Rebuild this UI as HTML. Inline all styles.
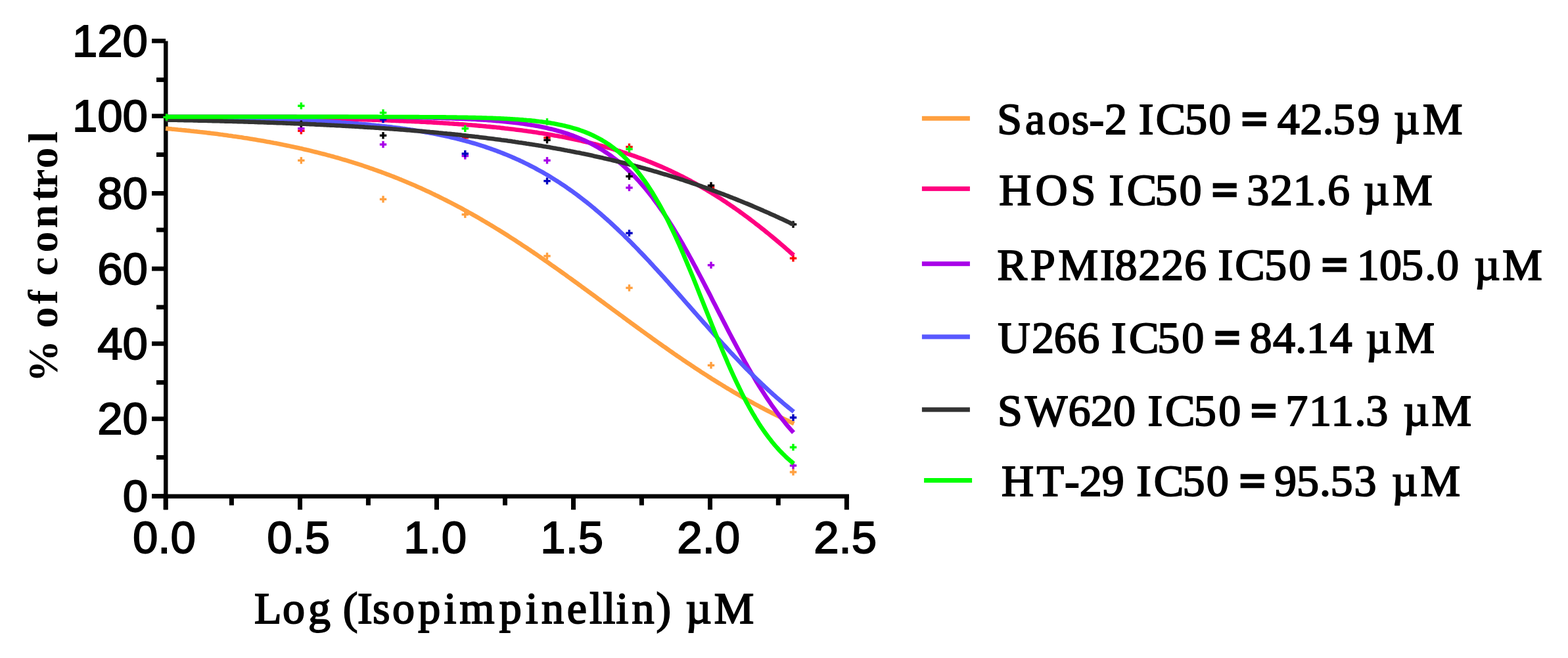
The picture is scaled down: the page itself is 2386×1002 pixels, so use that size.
<!DOCTYPE html><html><head><meta charset="utf-8"><style>html,body{margin:0;padding:0;background:#fff;overflow:hidden;}svg{display:block;}.tk{font-family:"Liberation Sans",Arial,sans-serif;font-weight:normal;font-size:69px;fill:#000;stroke:#000;stroke-width:1.8px;}.ti{font-family:"Liberation Serif","Times New Roman",serif;font-weight:normal;font-size:68px;fill:#000;stroke:#000;stroke-width:2.0px;}.eq{stroke-width:4.5px;}.tib{font-family:"Liberation Serif","Times New Roman",serif;font-weight:bold;font-size:64px;fill:#000;}</style></head><body>
<svg width="2386" height="1002" viewBox="0 0 2386 1002">
<rect width="100%" height="100%" fill="#fff"/>
<rect x="249" y="62.5" width="6.5" height="713.7" fill="#000"/><rect x="231" y="752.5" width="1061" height="6.6" fill="#000"/><rect x="231" y="58.9" width="21.0" height="6.8" fill="#000"/><rect x="238" y="118.1" width="14.0" height="6.8" fill="#000"/><rect x="231" y="173.3" width="21.0" height="6.8" fill="#000"/><rect x="238" y="232.1" width="14.0" height="6.8" fill="#000"/><rect x="231" y="291.0" width="21.0" height="6.8" fill="#000"/><rect x="238" y="346.7" width="14.0" height="6.8" fill="#000"/><rect x="231" y="405.8" width="21.0" height="6.8" fill="#000"/><rect x="238" y="464.4" width="14.0" height="6.8" fill="#000"/><rect x="231" y="519.9" width="21.0" height="6.8" fill="#000"/><rect x="238" y="579.0" width="14.0" height="6.8" fill="#000"/><rect x="231" y="634.4" width="21.0" height="6.8" fill="#000"/><rect x="238" y="693.1" width="14.0" height="6.8" fill="#000"/><rect x="231" y="752.2" width="21.0" height="6.8" fill="#000"/><rect x="248.6" y="758" width="7" height="18.2" fill="#000"/><rect x="348.9" y="758" width="7" height="11.5" fill="#000"/><rect x="453.0" y="758" width="7" height="18.2" fill="#000"/><rect x="556.9" y="758" width="7" height="11.5" fill="#000"/><rect x="661.0" y="758" width="7" height="18.2" fill="#000"/><rect x="765.0" y="758" width="7" height="11.5" fill="#000"/><rect x="869.0" y="758" width="7" height="18.2" fill="#000"/><rect x="972.9" y="758" width="7" height="11.5" fill="#000"/><rect x="1077.0" y="758" width="7" height="18.2" fill="#000"/><rect x="1180.8" y="758" width="7" height="11.5" fill="#000"/><rect x="1284.9" y="758" width="7" height="18.2" fill="#000"/>
<g><rect x="453.1" y="242.6" width="10.4" height="3.4" fill="#FFA040"/><rect x="456.6" y="239.1" width="3.4" height="10.4" fill="#FFA040"/><rect x="577.8" y="301.7" width="10.4" height="3.4" fill="#FFA040"/><rect x="581.3" y="298.2" width="3.4" height="10.4" fill="#FFA040"/><rect x="702.6" y="325.0" width="10.4" height="3.4" fill="#FFA040"/><rect x="706.1" y="321.5" width="3.4" height="10.4" fill="#FFA040"/><rect x="827.3" y="388.2" width="10.4" height="3.4" fill="#FFA040"/><rect x="830.8" y="384.7" width="3.4" height="10.4" fill="#FFA040"/><rect x="952.3" y="436.7" width="10.4" height="3.4" fill="#FFA040"/><rect x="955.8" y="433.2" width="3.4" height="10.4" fill="#FFA040"/><rect x="1076.8" y="554.6" width="10.4" height="3.4" fill="#FFA040"/><rect x="1080.3" y="551.1" width="3.4" height="10.4" fill="#FFA040"/><rect x="1201.8" y="717.2" width="10.4" height="3.4" fill="#FFA040"/><rect x="1205.3" y="713.7" width="3.4" height="10.4" fill="#FFA040"/><path d="M252.0,195.7 L254.4,195.9 L256.8,196.1 L259.2,196.3 L261.6,196.6 L263.9,196.8 L266.3,197.0 L268.7,197.2 L271.1,197.5 L273.5,197.7 L275.9,197.9 L278.3,198.2 L280.7,198.4 L283.1,198.6 L285.4,198.9 L287.8,199.1 L290.2,199.4 L292.6,199.7 L295.0,199.9 L297.4,200.2 L299.8,200.4 L302.2,200.7 L304.6,201.0 L307.0,201.2 L309.3,201.5 L311.7,201.8 L314.1,202.1 L316.5,202.4 L318.9,202.6 L321.3,202.9 L323.7,203.2 L326.1,203.5 L328.5,203.8 L330.8,204.1 L333.2,204.4 L335.6,204.8 L338.0,205.1 L340.4,205.4 L342.8,205.7 L345.2,206.0 L347.6,206.4 L350.0,206.7 L352.3,207.0 L354.7,207.4 L357.1,207.7 L359.5,208.1 L361.9,208.4 L364.3,208.8 L366.7,209.1 L369.1,209.5 L371.5,209.9 L373.9,210.2 L376.2,210.6 L378.6,211.0 L381.0,211.4 L383.4,211.8 L385.8,212.2 L388.2,212.6 L390.6,213.0 L393.0,213.4 L395.4,213.8 L397.7,214.2 L400.1,214.6 L402.5,215.0 L404.9,215.5 L407.3,215.9 L409.7,216.3 L412.1,216.8 L414.5,217.2 L416.9,217.7 L419.2,218.1 L421.6,218.6 L424.0,219.0 L426.4,219.5 L428.8,220.0 L431.2,220.5 L433.6,220.9 L436.0,221.4 L438.4,221.9 L440.7,222.4 L443.1,222.9 L445.5,223.4 L447.9,224.0 L450.3,224.5 L452.7,225.0 L455.1,225.5 L457.5,226.1 L459.9,226.6 L462.3,227.2 L464.6,227.7 L467.0,228.3 L469.4,228.8 L471.8,229.4 L474.2,230.0 L476.6,230.6 L479.0,231.2 L481.4,231.8 L483.8,232.4 L486.1,233.0 L488.5,233.6 L490.9,234.2 L493.3,234.8 L495.7,235.4 L498.1,236.1 L500.5,236.7 L502.9,237.4 L505.3,238.0 L507.6,238.7 L510.0,239.4 L512.4,240.0 L514.8,240.7 L517.2,241.4 L519.6,242.1 L522.0,242.8 L524.4,243.5 L526.8,244.2 L529.1,244.9 L531.5,245.7 L533.9,246.4 L536.3,247.1 L538.7,247.9 L541.1,248.6 L543.5,249.4 L545.9,250.2 L548.3,250.9 L550.7,251.7 L553.0,252.5 L555.4,253.3 L557.8,254.1 L560.2,254.9 L562.6,255.8 L565.0,256.6 L567.4,257.4 L569.8,258.3 L572.2,259.1 L574.5,260.0 L576.9,260.8 L579.3,261.7 L581.7,262.6 L584.1,263.5 L586.5,264.4 L588.9,265.3 L591.3,266.2 L593.7,267.1 L596.0,268.0 L598.4,268.9 L600.8,269.9 L603.2,270.8 L605.6,271.8 L608.0,272.8 L610.4,273.7 L612.8,274.7 L615.2,275.7 L617.6,276.7 L619.9,277.7 L622.3,278.7 L624.7,279.7 L627.1,280.8 L629.5,281.8 L631.9,282.8 L634.3,283.9 L636.7,285.0 L639.1,286.0 L641.4,287.1 L643.8,288.2 L646.2,289.3 L648.6,290.4 L651.0,291.5 L653.4,292.6 L655.8,293.7 L658.2,294.9 L660.6,296.0 L662.9,297.2 L665.3,298.3 L667.7,299.5 L670.1,300.7 L672.5,301.9 L674.9,303.1 L677.3,304.3 L679.7,305.5 L682.1,306.7 L684.4,307.9 L686.8,309.1 L689.2,310.4 L691.6,311.6 L694.0,312.9 L696.4,314.2 L698.8,315.4 L701.2,316.7 L703.6,318.0 L706.0,319.3 L708.3,320.6 L710.7,321.9 L713.1,323.3 L715.5,324.6 L717.9,325.9 L720.3,327.3 L722.7,328.7 L725.1,330.0 L727.5,331.4 L729.8,332.8 L732.2,334.2 L734.6,335.6 L737.0,337.0 L739.4,338.4 L741.8,339.8 L744.2,341.2 L746.6,342.7 L749.0,344.1 L751.3,345.5 L753.7,347.0 L756.1,348.5 L758.5,349.9 L760.9,351.4 L763.3,352.9 L765.7,354.4 L768.1,355.9 L770.5,357.4 L772.9,358.9 L775.2,360.4 L777.6,362.0 L780.0,363.5 L782.4,365.0 L784.8,366.6 L787.2,368.2 L789.6,369.7 L792.0,371.3 L794.4,372.9 L796.7,374.4 L799.1,376.0 L801.5,377.6 L803.9,379.2 L806.3,380.8 L808.7,382.4 L811.1,384.0 L813.5,385.7 L815.9,387.3 L818.2,388.9 L820.6,390.6 L823.0,392.2 L825.4,393.9 L827.8,395.5 L830.2,397.2 L832.6,398.8 L835.0,400.5 L837.4,402.2 L839.7,403.9 L842.1,405.5 L844.5,407.2 L846.9,408.9 L849.3,410.6 L851.7,412.3 L854.1,414.0 L856.5,415.7 L858.9,417.4 L861.3,419.1 L863.6,420.9 L866.0,422.6 L868.4,424.3 L870.8,426.0 L873.2,427.8 L875.6,429.5 L878.0,431.2 L880.4,433.0 L882.8,434.7 L885.1,436.5 L887.5,438.2 L889.9,440.0 L892.3,441.7 L894.7,443.5 L897.1,445.2 L899.5,447.0 L901.9,448.7 L904.3,450.5 L906.6,452.2 L909.0,454.0 L911.4,455.8 L913.8,457.5 L916.2,459.3 L918.6,461.0 L921.0,462.8 L923.4,464.6 L925.8,466.3 L928.2,468.1 L930.5,469.9 L932.9,471.6 L935.3,473.4 L937.7,475.1 L940.1,476.9 L942.5,478.7 L944.9,480.4 L947.3,482.2 L949.7,484.0 L952.0,485.7 L954.4,487.5 L956.8,489.2 L959.2,491.0 L961.6,492.7 L964.0,494.5 L966.4,496.2 L968.8,498.0 L971.2,499.7 L973.5,501.4 L975.9,503.2 L978.3,504.9 L980.7,506.6 L983.1,508.4 L985.5,510.1 L987.9,511.8 L990.3,513.5 L992.7,515.3 L995.0,517.0 L997.4,518.7 L999.8,520.4 L1002.2,522.1 L1004.6,523.8 L1007.0,525.5 L1009.4,527.2 L1011.8,528.8 L1014.2,530.5 L1016.6,532.2 L1018.9,533.9 L1021.3,535.5 L1023.7,537.2 L1026.1,538.9 L1028.5,540.5 L1030.9,542.2 L1033.3,543.8 L1035.7,545.4 L1038.1,547.1 L1040.4,548.7 L1042.8,550.3 L1045.2,551.9 L1047.6,553.5 L1050.0,555.1 L1052.4,556.7 L1054.8,558.3 L1057.2,559.9 L1059.6,561.5 L1061.9,563.0 L1064.3,564.6 L1066.7,566.2 L1069.1,567.7 L1071.5,569.3 L1073.9,570.8 L1076.3,572.3 L1078.7,573.9 L1081.1,575.4 L1083.4,576.9 L1085.8,578.4 L1088.2,579.9 L1090.6,581.4 L1093.0,582.9 L1095.4,584.3 L1097.8,585.8 L1100.2,587.3 L1102.6,588.7 L1105.0,590.2 L1107.3,591.6 L1109.7,593.0 L1112.1,594.4 L1114.5,595.9 L1116.9,597.3 L1119.3,598.7 L1121.7,600.1 L1124.1,601.4 L1126.5,602.8 L1128.8,604.2 L1131.2,605.6 L1133.6,606.9 L1136.0,608.2 L1138.4,609.6 L1140.8,610.9 L1143.2,612.2 L1145.6,613.5 L1148.0,614.9 L1150.3,616.1 L1152.7,617.4 L1155.1,618.7 L1157.5,620.0 L1159.9,621.2 L1162.3,622.5 L1164.7,623.8 L1167.1,625.0 L1169.5,626.2 L1171.9,627.4 L1174.2,628.7 L1176.6,629.9 L1179.0,631.1 L1181.4,632.2 L1183.8,633.4 L1186.2,634.6 L1188.6,635.8 L1191.0,636.9 L1193.4,638.1 L1195.7,639.2 L1198.1,640.3 L1200.5,641.5 L1202.9,642.6 L1205.3,643.7 L1208.3,645.1" fill="none" stroke="#FFA040" stroke-width="6.6" stroke-linejoin="round" stroke-linecap="butt"/></g>
<g><rect x="453.1" y="197.5" width="10.4" height="3.4" fill="#FF0000"/><rect x="456.6" y="194.0" width="3.4" height="10.4" fill="#FF0000"/><rect x="702.6" y="208.0" width="10.4" height="3.4" fill="#FF0000"/><rect x="706.1" y="204.5" width="3.4" height="10.4" fill="#FF0000"/><rect x="827.3" y="208.0" width="10.4" height="3.4" fill="#FF0000"/><rect x="830.8" y="204.5" width="3.4" height="10.4" fill="#FF0000"/><rect x="952.3" y="222.0" width="10.4" height="3.4" fill="#FF0000"/><rect x="955.8" y="218.5" width="3.4" height="10.4" fill="#FF0000"/><rect x="1076.8" y="284.1" width="10.4" height="3.4" fill="#FF0000"/><rect x="1080.3" y="280.6" width="3.4" height="10.4" fill="#FF0000"/><rect x="1201.8" y="391.6" width="10.4" height="3.4" fill="#FF0000"/><rect x="1205.3" y="388.1" width="3.4" height="10.4" fill="#FF0000"/><path d="M252.0,178.4 L254.4,178.5 L256.8,178.5 L259.2,178.5 L261.6,178.5 L263.9,178.5 L266.3,178.5 L268.7,178.5 L271.1,178.5 L273.5,178.5 L275.9,178.5 L278.3,178.6 L280.7,178.6 L283.1,178.6 L285.4,178.6 L287.8,178.6 L290.2,178.6 L292.6,178.6 L295.0,178.6 L297.4,178.7 L299.8,178.7 L302.2,178.7 L304.6,178.7 L307.0,178.7 L309.3,178.7 L311.7,178.7 L314.1,178.7 L316.5,178.8 L318.9,178.8 L321.3,178.8 L323.7,178.8 L326.1,178.8 L328.5,178.8 L330.8,178.9 L333.2,178.9 L335.6,178.9 L338.0,178.9 L340.4,178.9 L342.8,178.9 L345.2,178.9 L347.6,179.0 L350.0,179.0 L352.3,179.0 L354.7,179.0 L357.1,179.0 L359.5,179.1 L361.9,179.1 L364.3,179.1 L366.7,179.1 L369.1,179.1 L371.5,179.2 L373.9,179.2 L376.2,179.2 L378.6,179.2 L381.0,179.2 L383.4,179.3 L385.8,179.3 L388.2,179.3 L390.6,179.3 L393.0,179.4 L395.4,179.4 L397.7,179.4 L400.1,179.4 L402.5,179.5 L404.9,179.5 L407.3,179.5 L409.7,179.5 L412.1,179.6 L414.5,179.6 L416.9,179.6 L419.2,179.6 L421.6,179.7 L424.0,179.7 L426.4,179.7 L428.8,179.8 L431.2,179.8 L433.6,179.8 L436.0,179.9 L438.4,179.9 L440.7,179.9 L443.1,179.9 L445.5,180.0 L447.9,180.0 L450.3,180.1 L452.7,180.1 L455.1,180.1 L457.5,180.2 L459.9,180.2 L462.3,180.2 L464.6,180.3 L467.0,180.3 L469.4,180.3 L471.8,180.4 L474.2,180.4 L476.6,180.5 L479.0,180.5 L481.4,180.6 L483.8,180.6 L486.1,180.6 L488.5,180.7 L490.9,180.7 L493.3,180.8 L495.7,180.8 L498.1,180.9 L500.5,180.9 L502.9,181.0 L505.3,181.0 L507.6,181.1 L510.0,181.1 L512.4,181.2 L514.8,181.2 L517.2,181.3 L519.6,181.3 L522.0,181.4 L524.4,181.4 L526.8,181.5 L529.1,181.5 L531.5,181.6 L533.9,181.7 L536.3,181.7 L538.7,181.8 L541.1,181.9 L543.5,181.9 L545.9,182.0 L548.3,182.0 L550.7,182.1 L553.0,182.2 L555.4,182.2 L557.8,182.3 L560.2,182.4 L562.6,182.5 L565.0,182.5 L567.4,182.6 L569.8,182.7 L572.2,182.8 L574.5,182.8 L576.9,182.9 L579.3,183.0 L581.7,183.1 L584.1,183.2 L586.5,183.2 L588.9,183.3 L591.3,183.4 L593.7,183.5 L596.0,183.6 L598.4,183.7 L600.8,183.8 L603.2,183.9 L605.6,184.0 L608.0,184.1 L610.4,184.2 L612.8,184.3 L615.2,184.4 L617.6,184.5 L619.9,184.6 L622.3,184.7 L624.7,184.8 L627.1,184.9 L629.5,185.0 L631.9,185.1 L634.3,185.2 L636.7,185.3 L639.1,185.5 L641.4,185.6 L643.8,185.7 L646.2,185.8 L648.6,185.9 L651.0,186.1 L653.4,186.2 L655.8,186.3 L658.2,186.5 L660.6,186.6 L662.9,186.7 L665.3,186.9 L667.7,187.0 L670.1,187.2 L672.5,187.3 L674.9,187.5 L677.3,187.6 L679.7,187.8 L682.1,187.9 L684.4,188.1 L686.8,188.2 L689.2,188.4 L691.6,188.6 L694.0,188.7 L696.4,188.9 L698.8,189.1 L701.2,189.2 L703.6,189.4 L706.0,189.6 L708.3,189.8 L710.7,190.0 L713.1,190.2 L715.5,190.3 L717.9,190.5 L720.3,190.7 L722.7,190.9 L725.1,191.1 L727.5,191.4 L729.8,191.6 L732.2,191.8 L734.6,192.0 L737.0,192.2 L739.4,192.4 L741.8,192.7 L744.2,192.9 L746.6,193.1 L749.0,193.4 L751.3,193.6 L753.7,193.8 L756.1,194.1 L758.5,194.3 L760.9,194.6 L763.3,194.9 L765.7,195.1 L768.1,195.4 L770.5,195.7 L772.9,195.9 L775.2,196.2 L777.6,196.5 L780.0,196.8 L782.4,197.1 L784.8,197.4 L787.2,197.7 L789.6,198.0 L792.0,198.3 L794.4,198.6 L796.7,198.9 L799.1,199.2 L801.5,199.6 L803.9,199.9 L806.3,200.2 L808.7,200.6 L811.1,200.9 L813.5,201.3 L815.9,201.6 L818.2,202.0 L820.6,202.4 L823.0,202.7 L825.4,203.1 L827.8,203.5 L830.2,203.9 L832.6,204.3 L835.0,204.7 L837.4,205.1 L839.7,205.5 L842.1,205.9 L844.5,206.4 L846.9,206.8 L849.3,207.2 L851.7,207.7 L854.1,208.1 L856.5,208.6 L858.9,209.1 L861.3,209.5 L863.6,210.0 L866.0,210.5 L868.4,211.0 L870.8,211.5 L873.2,212.0 L875.6,212.5 L878.0,213.0 L880.4,213.5 L882.8,214.1 L885.1,214.6 L887.5,215.2 L889.9,215.7 L892.3,216.3 L894.7,216.8 L897.1,217.4 L899.5,218.0 L901.9,218.6 L904.3,219.2 L906.6,219.8 L909.0,220.4 L911.4,221.1 L913.8,221.7 L916.2,222.3 L918.6,223.0 L921.0,223.7 L923.4,224.3 L925.8,225.0 L928.2,225.7 L930.5,226.4 L932.9,227.1 L935.3,227.8 L937.7,228.5 L940.1,229.3 L942.5,230.0 L944.9,230.8 L947.3,231.6 L949.7,232.3 L952.0,233.1 L954.4,233.9 L956.8,234.7 L959.2,235.5 L961.6,236.4 L964.0,237.2 L966.4,238.0 L968.8,238.9 L971.2,239.8 L973.5,240.6 L975.9,241.5 L978.3,242.4 L980.7,243.3 L983.1,244.3 L985.5,245.2 L987.9,246.2 L990.3,247.1 L992.7,248.1 L995.0,249.1 L997.4,250.1 L999.8,251.1 L1002.2,252.1 L1004.6,253.1 L1007.0,254.1 L1009.4,255.2 L1011.8,256.3 L1014.2,257.3 L1016.6,258.4 L1018.9,259.5 L1021.3,260.6 L1023.7,261.8 L1026.1,262.9 L1028.5,264.1 L1030.9,265.2 L1033.3,266.4 L1035.7,267.6 L1038.1,268.8 L1040.4,270.0 L1042.8,271.3 L1045.2,272.5 L1047.6,273.8 L1050.0,275.0 L1052.4,276.3 L1054.8,277.6 L1057.2,278.9 L1059.6,280.3 L1061.9,281.6 L1064.3,282.9 L1066.7,284.3 L1069.1,285.7 L1071.5,287.1 L1073.9,288.5 L1076.3,289.9 L1078.7,291.4 L1081.1,292.8 L1083.4,294.3 L1085.8,295.7 L1088.2,297.2 L1090.6,298.7 L1093.0,300.3 L1095.4,301.8 L1097.8,303.3 L1100.2,304.9 L1102.6,306.5 L1105.0,308.1 L1107.3,309.7 L1109.7,311.3 L1112.1,312.9 L1114.5,314.5 L1116.9,316.2 L1119.3,317.9 L1121.7,319.6 L1124.1,321.2 L1126.5,323.0 L1128.8,324.7 L1131.2,326.4 L1133.6,328.2 L1136.0,329.9 L1138.4,331.7 L1140.8,333.5 L1143.2,335.3 L1145.6,337.1 L1148.0,339.0 L1150.3,340.8 L1152.7,342.7 L1155.1,344.5 L1157.5,346.4 L1159.9,348.3 L1162.3,350.2 L1164.7,352.1 L1167.1,354.1 L1169.5,356.0 L1171.9,358.0 L1174.2,359.9 L1176.6,361.9 L1179.0,363.9 L1181.4,365.9 L1183.8,367.9 L1186.2,369.9 L1188.6,372.0 L1191.0,374.0 L1193.4,376.0 L1195.7,378.1 L1198.1,380.2 L1200.5,382.3 L1202.9,384.4 L1205.3,386.5 L1207.8,388.6" fill="none" stroke="#FF0080" stroke-width="6.6" stroke-linejoin="round" stroke-linecap="butt"/></g>
<g><rect x="453.1" y="194.0" width="10.4" height="3.4" fill="#A800E8"/><rect x="456.6" y="190.5" width="3.4" height="10.4" fill="#A800E8"/><rect x="577.8" y="218.3" width="10.4" height="3.4" fill="#A800E8"/><rect x="581.3" y="214.8" width="3.4" height="10.4" fill="#A800E8"/><rect x="702.6" y="235.8" width="10.4" height="3.4" fill="#A800E8"/><rect x="706.1" y="232.3" width="3.4" height="10.4" fill="#A800E8"/><rect x="827.3" y="242.6" width="10.4" height="3.4" fill="#A800E8"/><rect x="830.8" y="239.1" width="3.4" height="10.4" fill="#A800E8"/><rect x="952.3" y="284.2" width="10.4" height="3.4" fill="#A800E8"/><rect x="955.8" y="280.7" width="3.4" height="10.4" fill="#A800E8"/><rect x="1076.8" y="402.1" width="10.4" height="3.4" fill="#A800E8"/><rect x="1080.3" y="398.6" width="3.4" height="10.4" fill="#A800E8"/><rect x="1201.8" y="707.3" width="10.4" height="3.4" fill="#A800E8"/><rect x="1205.3" y="703.8" width="3.4" height="10.4" fill="#A800E8"/><path d="M252.0,177.9 L254.4,177.9 L256.8,177.9 L259.2,177.9 L261.6,177.9 L263.9,177.9 L266.3,177.9 L268.7,177.9 L271.1,177.9 L273.5,177.9 L275.9,177.9 L278.3,177.9 L280.7,177.9 L283.1,177.9 L285.4,177.9 L287.8,177.9 L290.2,177.9 L292.6,177.9 L295.0,177.9 L297.4,177.9 L299.8,177.9 L302.2,177.9 L304.6,177.9 L307.0,177.9 L309.3,177.9 L311.7,177.9 L314.1,177.9 L316.5,177.9 L318.9,177.9 L321.3,177.9 L323.7,177.9 L326.1,177.9 L328.5,177.9 L330.8,177.9 L333.2,177.9 L335.6,177.9 L338.0,177.9 L340.4,177.9 L342.8,177.9 L345.2,177.9 L347.6,177.9 L350.0,177.9 L352.3,177.9 L354.7,177.9 L357.1,177.9 L359.5,177.9 L361.9,177.9 L364.3,177.9 L366.7,177.9 L369.1,177.9 L371.5,177.9 L373.9,177.9 L376.2,177.9 L378.6,177.9 L381.0,177.9 L383.4,177.9 L385.8,177.9 L388.2,177.9 L390.6,177.9 L393.0,177.9 L395.4,177.9 L397.7,177.9 L400.1,177.9 L402.5,177.9 L404.9,177.9 L407.3,177.9 L409.7,177.9 L412.1,177.9 L414.5,177.9 L416.9,177.9 L419.2,177.9 L421.6,177.9 L424.0,177.9 L426.4,177.9 L428.8,177.9 L431.2,177.9 L433.6,177.9 L436.0,177.9 L438.4,177.9 L440.7,177.9 L443.1,177.9 L445.5,177.9 L447.9,177.9 L450.3,177.9 L452.7,178.0 L455.1,178.0 L457.5,178.0 L459.9,178.0 L462.3,178.0 L464.6,178.0 L467.0,178.0 L469.4,178.0 L471.8,178.0 L474.2,178.0 L476.6,178.0 L479.0,178.0 L481.4,178.0 L483.8,178.0 L486.1,178.0 L488.5,178.0 L490.9,178.0 L493.3,178.0 L495.7,178.0 L498.1,178.0 L500.5,178.0 L502.9,178.1 L505.3,178.1 L507.6,178.1 L510.0,178.1 L512.4,178.1 L514.8,178.1 L517.2,178.1 L519.6,178.1 L522.0,178.1 L524.4,178.1 L526.8,178.1 L529.1,178.1 L531.5,178.2 L533.9,178.2 L536.3,178.2 L538.7,178.2 L541.1,178.2 L543.5,178.2 L545.9,178.2 L548.3,178.2 L550.7,178.2 L553.0,178.3 L555.4,178.3 L557.8,178.3 L560.2,178.3 L562.6,178.3 L565.0,178.3 L567.4,178.3 L569.8,178.4 L572.2,178.4 L574.5,178.4 L576.9,178.4 L579.3,178.4 L581.7,178.4 L584.1,178.5 L586.5,178.5 L588.9,178.5 L591.3,178.5 L593.7,178.5 L596.0,178.6 L598.4,178.6 L600.8,178.6 L603.2,178.6 L605.6,178.7 L608.0,178.7 L610.4,178.7 L612.8,178.8 L615.2,178.8 L617.6,178.8 L619.9,178.8 L622.3,178.9 L624.7,178.9 L627.1,178.9 L629.5,179.0 L631.9,179.0 L634.3,179.1 L636.7,179.1 L639.1,179.1 L641.4,179.2 L643.8,179.2 L646.2,179.3 L648.6,179.3 L651.0,179.4 L653.4,179.4 L655.8,179.5 L658.2,179.5 L660.6,179.6 L662.9,179.6 L665.3,179.7 L667.7,179.7 L670.1,179.8 L672.5,179.9 L674.9,179.9 L677.3,180.0 L679.7,180.1 L682.1,180.2 L684.4,180.2 L686.8,180.3 L689.2,180.4 L691.6,180.5 L694.0,180.6 L696.4,180.6 L698.8,180.7 L701.2,180.8 L703.6,180.9 L706.0,181.0 L708.3,181.1 L710.7,181.2 L713.1,181.4 L715.5,181.5 L717.9,181.6 L720.3,181.7 L722.7,181.8 L725.1,182.0 L727.5,182.1 L729.8,182.2 L732.2,182.4 L734.6,182.5 L737.0,182.7 L739.4,182.8 L741.8,183.0 L744.2,183.2 L746.6,183.3 L749.0,183.5 L751.3,183.7 L753.7,183.9 L756.1,184.1 L758.5,184.3 L760.9,184.5 L763.3,184.7 L765.7,184.9 L768.1,185.2 L770.5,185.4 L772.9,185.7 L775.2,185.9 L777.6,186.2 L780.0,186.4 L782.4,186.7 L784.8,187.0 L787.2,187.3 L789.6,187.6 L792.0,187.9 L794.4,188.3 L796.7,188.6 L799.1,188.9 L801.5,189.3 L803.9,189.7 L806.3,190.0 L808.7,190.4 L811.1,190.8 L813.5,191.3 L815.9,191.7 L818.2,192.1 L820.6,192.6 L823.0,193.1 L825.4,193.6 L827.8,194.1 L830.2,194.6 L832.6,195.1 L835.0,195.7 L837.4,196.2 L839.7,196.8 L842.1,197.4 L844.5,198.0 L846.9,198.7 L849.3,199.3 L851.7,200.0 L854.1,200.7 L856.5,201.4 L858.9,202.2 L861.3,202.9 L863.6,203.7 L866.0,204.5 L868.4,205.4 L870.8,206.2 L873.2,207.1 L875.6,208.0 L878.0,209.0 L880.4,210.0 L882.8,211.0 L885.1,212.0 L887.5,213.0 L889.9,214.1 L892.3,215.2 L894.7,216.4 L897.1,217.6 L899.5,218.8 L901.9,220.0 L904.3,221.3 L906.6,222.6 L909.0,224.0 L911.4,225.4 L913.8,226.8 L916.2,228.3 L918.6,229.8 L921.0,231.4 L923.4,232.9 L925.8,234.6 L928.2,236.3 L930.5,238.0 L932.9,239.8 L935.3,241.6 L937.7,243.4 L940.1,245.3 L942.5,247.3 L944.9,249.3 L947.3,251.3 L949.7,253.4 L952.0,255.6 L954.4,257.8 L956.8,260.1 L959.2,262.4 L961.6,264.7 L964.0,267.2 L966.4,269.6 L968.8,272.2 L971.2,274.7 L973.5,277.4 L975.9,280.1 L978.3,282.8 L980.7,285.6 L983.1,288.5 L985.5,291.4 L987.9,294.4 L990.3,297.5 L992.7,300.6 L995.0,303.7 L997.4,307.0 L999.8,310.2 L1002.2,313.6 L1004.6,317.0 L1007.0,320.4 L1009.4,323.9 L1011.8,327.5 L1014.2,331.1 L1016.6,334.8 L1018.9,338.5 L1021.3,342.3 L1023.7,346.1 L1026.1,350.0 L1028.5,353.9 L1030.9,357.9 L1033.3,362.0 L1035.7,366.1 L1038.1,370.2 L1040.4,374.4 L1042.8,378.6 L1045.2,382.9 L1047.6,387.2 L1050.0,391.5 L1052.4,395.9 L1054.8,400.3 L1057.2,404.8 L1059.6,409.2 L1061.9,413.7 L1064.3,418.3 L1066.7,422.8 L1069.1,427.4 L1071.5,432.0 L1073.9,436.6 L1076.3,441.3 L1078.7,445.9 L1081.1,450.6 L1083.4,455.2 L1085.8,459.9 L1088.2,464.6 L1090.6,469.3 L1093.0,474.0 L1095.4,478.6 L1097.8,483.3 L1100.2,488.0 L1102.6,492.6 L1105.0,497.2 L1107.3,501.9 L1109.7,506.5 L1112.1,511.0 L1114.5,515.6 L1116.9,520.1 L1119.3,524.6 L1121.7,529.1 L1124.1,533.5 L1126.5,538.0 L1128.8,542.3 L1131.2,546.7 L1133.6,551.0 L1136.0,555.2 L1138.4,559.5 L1140.8,563.6 L1143.2,567.8 L1145.6,571.8 L1148.0,575.9 L1150.3,579.9 L1152.7,583.8 L1155.1,587.7 L1157.5,591.5 L1159.9,595.3 L1162.3,599.0 L1164.7,602.7 L1167.1,606.3 L1169.5,609.9 L1171.9,613.4 L1174.2,616.8 L1176.6,620.2 L1179.0,623.5 L1181.4,626.8 L1183.8,630.0 L1186.2,633.2 L1188.6,636.3 L1191.0,639.3 L1193.4,642.3 L1195.7,645.2 L1198.1,648.1 L1200.5,650.9 L1202.9,653.6 L1205.3,656.3 L1207.5,658.8" fill="none" stroke="#A800E8" stroke-width="6.6" stroke-linejoin="round" stroke-linecap="butt"/></g>
<g><rect x="577.8" y="180.3" width="10.4" height="3.4" fill="#0000C0"/><rect x="581.3" y="176.8" width="3.4" height="10.4" fill="#0000C0"/><rect x="702.6" y="232.4" width="10.4" height="3.4" fill="#0000C0"/><rect x="706.1" y="228.9" width="3.4" height="10.4" fill="#0000C0"/><rect x="827.3" y="273.9" width="10.4" height="3.4" fill="#0000C0"/><rect x="830.8" y="270.4" width="3.4" height="10.4" fill="#0000C0"/><rect x="952.3" y="353.3" width="10.4" height="3.4" fill="#0000C0"/><rect x="955.8" y="349.8" width="3.4" height="10.4" fill="#0000C0"/><rect x="1201.8" y="634.2" width="10.4" height="3.4" fill="#0000C0"/><rect x="1205.3" y="630.7" width="3.4" height="10.4" fill="#0000C0"/><path d="M252.0,178.9 L254.4,178.9 L256.8,179.0 L259.2,179.0 L261.6,179.0 L263.9,179.0 L266.3,179.0 L268.7,179.1 L271.1,179.1 L273.5,179.1 L275.9,179.1 L278.3,179.2 L280.7,179.2 L283.1,179.2 L285.4,179.2 L287.8,179.3 L290.2,179.3 L292.6,179.3 L295.0,179.4 L297.4,179.4 L299.8,179.4 L302.2,179.4 L304.6,179.5 L307.0,179.5 L309.3,179.5 L311.7,179.6 L314.1,179.6 L316.5,179.6 L318.9,179.7 L321.3,179.7 L323.7,179.7 L326.1,179.8 L328.5,179.8 L330.8,179.8 L333.2,179.9 L335.6,179.9 L338.0,180.0 L340.4,180.0 L342.8,180.0 L345.2,180.1 L347.6,180.1 L350.0,180.2 L352.3,180.2 L354.7,180.3 L357.1,180.3 L359.5,180.3 L361.9,180.4 L364.3,180.4 L366.7,180.5 L369.1,180.5 L371.5,180.6 L373.9,180.6 L376.2,180.7 L378.6,180.8 L381.0,180.8 L383.4,180.9 L385.8,180.9 L388.2,181.0 L390.6,181.0 L393.0,181.1 L395.4,181.2 L397.7,181.2 L400.1,181.3 L402.5,181.3 L404.9,181.4 L407.3,181.5 L409.7,181.6 L412.1,181.6 L414.5,181.7 L416.9,181.8 L419.2,181.8 L421.6,181.9 L424.0,182.0 L426.4,182.1 L428.8,182.1 L431.2,182.2 L433.6,182.3 L436.0,182.4 L438.4,182.5 L440.7,182.6 L443.1,182.7 L445.5,182.7 L447.9,182.8 L450.3,182.9 L452.7,183.0 L455.1,183.1 L457.5,183.2 L459.9,183.3 L462.3,183.4 L464.6,183.5 L467.0,183.6 L469.4,183.8 L471.8,183.9 L474.2,184.0 L476.6,184.1 L479.0,184.2 L481.4,184.3 L483.8,184.5 L486.1,184.6 L488.5,184.7 L490.9,184.8 L493.3,185.0 L495.7,185.1 L498.1,185.2 L500.5,185.4 L502.9,185.5 L505.3,185.7 L507.6,185.8 L510.0,186.0 L512.4,186.1 L514.8,186.3 L517.2,186.4 L519.6,186.6 L522.0,186.7 L524.4,186.9 L526.8,187.1 L529.1,187.2 L531.5,187.4 L533.9,187.6 L536.3,187.8 L538.7,188.0 L541.1,188.2 L543.5,188.4 L545.9,188.6 L548.3,188.7 L550.7,189.0 L553.0,189.2 L555.4,189.4 L557.8,189.6 L560.2,189.8 L562.6,190.0 L565.0,190.3 L567.4,190.5 L569.8,190.7 L572.2,191.0 L574.5,191.2 L576.9,191.4 L579.3,191.7 L581.7,192.0 L584.1,192.2 L586.5,192.5 L588.9,192.8 L591.3,193.0 L593.7,193.3 L596.0,193.6 L598.4,193.9 L600.8,194.2 L603.2,194.5 L605.6,194.8 L608.0,195.1 L610.4,195.4 L612.8,195.8 L615.2,196.1 L617.6,196.4 L619.9,196.8 L622.3,197.1 L624.7,197.5 L627.1,197.8 L629.5,198.2 L631.9,198.6 L634.3,198.9 L636.7,199.3 L639.1,199.7 L641.4,200.1 L643.8,200.5 L646.2,200.9 L648.6,201.4 L651.0,201.8 L653.4,202.2 L655.8,202.7 L658.2,203.1 L660.6,203.6 L662.9,204.1 L665.3,204.5 L667.7,205.0 L670.1,205.5 L672.5,206.0 L674.9,206.5 L677.3,207.0 L679.7,207.6 L682.1,208.1 L684.4,208.6 L686.8,209.2 L689.2,209.8 L691.6,210.3 L694.0,210.9 L696.4,211.5 L698.8,212.1 L701.2,212.7 L703.6,213.3 L706.0,214.0 L708.3,214.6 L710.7,215.3 L713.1,215.9 L715.5,216.6 L717.9,217.3 L720.3,218.0 L722.7,218.7 L725.1,219.4 L727.5,220.2 L729.8,220.9 L732.2,221.7 L734.6,222.4 L737.0,223.2 L739.4,224.0 L741.8,224.8 L744.2,225.6 L746.6,226.5 L749.0,227.3 L751.3,228.2 L753.7,229.0 L756.1,229.9 L758.5,230.8 L760.9,231.7 L763.3,232.7 L765.7,233.6 L768.1,234.6 L770.5,235.5 L772.9,236.5 L775.2,237.5 L777.6,238.5 L780.0,239.6 L782.4,240.6 L784.8,241.7 L787.2,242.8 L789.6,243.8 L792.0,245.0 L794.4,246.1 L796.7,247.2 L799.1,248.4 L801.5,249.6 L803.9,250.7 L806.3,252.0 L808.7,253.2 L811.1,254.4 L813.5,255.7 L815.9,257.0 L818.2,258.3 L820.6,259.6 L823.0,260.9 L825.4,262.2 L827.8,263.6 L830.2,265.0 L832.6,266.4 L835.0,267.8 L837.4,269.3 L839.7,270.7 L842.1,272.2 L844.5,273.7 L846.9,275.2 L849.3,276.8 L851.7,278.3 L854.1,279.9 L856.5,281.5 L858.9,283.1 L861.3,284.7 L863.6,286.4 L866.0,288.0 L868.4,289.7 L870.8,291.4 L873.2,293.2 L875.6,294.9 L878.0,296.7 L880.4,298.5 L882.8,300.3 L885.1,302.1 L887.5,304.0 L889.9,305.8 L892.3,307.7 L894.7,309.6 L897.1,311.5 L899.5,313.5 L901.9,315.5 L904.3,317.4 L906.6,319.4 L909.0,321.5 L911.4,323.5 L913.8,325.6 L916.2,327.7 L918.6,329.8 L921.0,331.9 L923.4,334.0 L925.8,336.2 L928.2,338.3 L930.5,340.5 L932.9,342.7 L935.3,345.0 L937.7,347.2 L940.1,349.5 L942.5,351.8 L944.9,354.1 L947.3,356.4 L949.7,358.7 L952.0,361.1 L954.4,363.4 L956.8,365.8 L959.2,368.2 L961.6,370.6 L964.0,373.1 L966.4,375.5 L968.8,378.0 L971.2,380.4 L973.5,382.9 L975.9,385.4 L978.3,387.9 L980.7,390.4 L983.1,393.0 L985.5,395.5 L987.9,398.1 L990.3,400.7 L992.7,403.3 L995.0,405.9 L997.4,408.5 L999.8,411.1 L1002.2,413.7 L1004.6,416.3 L1007.0,419.0 L1009.4,421.6 L1011.8,424.3 L1014.2,427.0 L1016.6,429.6 L1018.9,432.3 L1021.3,435.0 L1023.7,437.7 L1026.1,440.4 L1028.5,443.1 L1030.9,445.8 L1033.3,448.5 L1035.7,451.2 L1038.1,453.9 L1040.4,456.6 L1042.8,459.4 L1045.2,462.1 L1047.6,464.8 L1050.0,467.5 L1052.4,470.2 L1054.8,473.0 L1057.2,475.7 L1059.6,478.4 L1061.9,481.1 L1064.3,483.8 L1066.7,486.5 L1069.1,489.2 L1071.5,492.0 L1073.9,494.6 L1076.3,497.3 L1078.7,500.0 L1081.1,502.7 L1083.4,505.4 L1085.8,508.1 L1088.2,510.7 L1090.6,513.4 L1093.0,516.0 L1095.4,518.7 L1097.8,521.3 L1100.2,523.9 L1102.6,526.5 L1105.0,529.1 L1107.3,531.7 L1109.7,534.3 L1112.1,536.9 L1114.5,539.4 L1116.9,542.0 L1119.3,544.5 L1121.7,547.0 L1124.1,549.5 L1126.5,552.0 L1128.8,554.5 L1131.2,556.9 L1133.6,559.4 L1136.0,561.8 L1138.4,564.2 L1140.8,566.6 L1143.2,569.0 L1145.6,571.4 L1148.0,573.8 L1150.3,576.1 L1152.7,578.4 L1155.1,580.7 L1157.5,583.0 L1159.9,585.3 L1162.3,587.5 L1164.7,589.8 L1167.1,592.0 L1169.5,594.2 L1171.9,596.4 L1174.2,598.5 L1176.6,600.7 L1179.0,602.8 L1181.4,604.9 L1183.8,607.0 L1186.2,609.1 L1188.6,611.1 L1191.0,613.2 L1193.4,615.2 L1195.7,617.2 L1198.1,619.1 L1200.5,621.1 L1202.9,623.0 L1205.3,625.0 L1207.9,627.0" fill="none" stroke="#5858FF" stroke-width="6.6" stroke-linejoin="round" stroke-linecap="butt"/></g>
<g><rect x="453.1" y="187.0" width="10.4" height="3.4" fill="#000000"/><rect x="456.6" y="183.5" width="3.4" height="10.4" fill="#000000"/><rect x="577.8" y="204.6" width="10.4" height="3.4" fill="#000000"/><rect x="581.3" y="201.1" width="3.4" height="10.4" fill="#000000"/><rect x="827.3" y="211.6" width="10.4" height="3.4" fill="#000000"/><rect x="830.8" y="208.1" width="3.4" height="10.4" fill="#000000"/><rect x="952.3" y="266.9" width="10.4" height="3.4" fill="#000000"/><rect x="955.8" y="263.4" width="3.4" height="10.4" fill="#000000"/><rect x="1076.8" y="280.8" width="10.4" height="3.4" fill="#000000"/><rect x="1080.3" y="277.3" width="3.4" height="10.4" fill="#000000"/><rect x="1201.8" y="340.0" width="10.4" height="3.4" fill="#000000"/><rect x="1205.3" y="336.5" width="3.4" height="10.4" fill="#000000"/><path d="M252.0,182.5 L254.4,182.6 L256.8,182.6 L259.2,182.6 L261.6,182.7 L263.9,182.7 L266.3,182.8 L268.7,182.8 L271.1,182.9 L273.5,182.9 L275.9,183.0 L278.3,183.0 L280.7,183.1 L283.1,183.1 L285.4,183.2 L287.8,183.2 L290.2,183.3 L292.6,183.3 L295.0,183.4 L297.4,183.4 L299.8,183.5 L302.2,183.6 L304.6,183.6 L307.0,183.7 L309.3,183.7 L311.7,183.8 L314.1,183.8 L316.5,183.9 L318.9,184.0 L321.3,184.0 L323.7,184.1 L326.1,184.1 L328.5,184.2 L330.8,184.3 L333.2,184.3 L335.6,184.4 L338.0,184.4 L340.4,184.5 L342.8,184.6 L345.2,184.6 L347.6,184.7 L350.0,184.8 L352.3,184.8 L354.7,184.9 L357.1,185.0 L359.5,185.0 L361.9,185.1 L364.3,185.2 L366.7,185.2 L369.1,185.3 L371.5,185.4 L373.9,185.5 L376.2,185.5 L378.6,185.6 L381.0,185.7 L383.4,185.8 L385.8,185.8 L388.2,185.9 L390.6,186.0 L393.0,186.1 L395.4,186.1 L397.7,186.2 L400.1,186.3 L402.5,186.4 L404.9,186.5 L407.3,186.6 L409.7,186.6 L412.1,186.7 L414.5,186.8 L416.9,186.9 L419.2,187.0 L421.6,187.1 L424.0,187.2 L426.4,187.2 L428.8,187.3 L431.2,187.4 L433.6,187.5 L436.0,187.6 L438.4,187.7 L440.7,187.8 L443.1,187.9 L445.5,188.0 L447.9,188.1 L450.3,188.2 L452.7,188.3 L455.1,188.4 L457.5,188.5 L459.9,188.6 L462.3,188.7 L464.6,188.8 L467.0,188.9 L469.4,189.0 L471.8,189.1 L474.2,189.2 L476.6,189.3 L479.0,189.4 L481.4,189.6 L483.8,189.7 L486.1,189.8 L488.5,189.9 L490.9,190.0 L493.3,190.1 L495.7,190.2 L498.1,190.4 L500.5,190.5 L502.9,190.6 L505.3,190.7 L507.6,190.8 L510.0,191.0 L512.4,191.1 L514.8,191.2 L517.2,191.3 L519.6,191.5 L522.0,191.6 L524.4,191.7 L526.8,191.9 L529.1,192.0 L531.5,192.1 L533.9,192.3 L536.3,192.4 L538.7,192.5 L541.1,192.7 L543.5,192.8 L545.9,193.0 L548.3,193.1 L550.7,193.3 L553.0,193.4 L555.4,193.6 L557.8,193.7 L560.2,193.9 L562.6,194.0 L565.0,194.2 L567.4,194.3 L569.8,194.5 L572.2,194.6 L574.5,194.8 L576.9,194.9 L579.3,195.1 L581.7,195.3 L584.1,195.4 L586.5,195.6 L588.9,195.8 L591.3,195.9 L593.7,196.1 L596.0,196.3 L598.4,196.5 L600.8,196.6 L603.2,196.8 L605.6,197.0 L608.0,197.2 L610.4,197.4 L612.8,197.5 L615.2,197.7 L617.6,197.9 L619.9,198.1 L622.3,198.3 L624.7,198.5 L627.1,198.7 L629.5,198.9 L631.9,199.1 L634.3,199.3 L636.7,199.5 L639.1,199.7 L641.4,199.9 L643.8,200.1 L646.2,200.3 L648.6,200.5 L651.0,200.7 L653.4,200.9 L655.8,201.2 L658.2,201.4 L660.6,201.6 L662.9,201.8 L665.3,202.0 L667.7,202.3 L670.1,202.5 L672.5,202.7 L674.9,203.0 L677.3,203.2 L679.7,203.4 L682.1,203.7 L684.4,203.9 L686.8,204.1 L689.2,204.4 L691.6,204.6 L694.0,204.9 L696.4,205.1 L698.8,205.4 L701.2,205.6 L703.6,205.9 L706.0,206.2 L708.3,206.4 L710.7,206.7 L713.1,207.0 L715.5,207.2 L717.9,207.5 L720.3,207.8 L722.7,208.1 L725.1,208.3 L727.5,208.6 L729.8,208.9 L732.2,209.2 L734.6,209.5 L737.0,209.8 L739.4,210.1 L741.8,210.4 L744.2,210.7 L746.6,211.0 L749.0,211.3 L751.3,211.6 L753.7,211.9 L756.1,212.2 L758.5,212.5 L760.9,212.8 L763.3,213.2 L765.7,213.5 L768.1,213.8 L770.5,214.1 L772.9,214.5 L775.2,214.8 L777.6,215.1 L780.0,215.5 L782.4,215.8 L784.8,216.2 L787.2,216.5 L789.6,216.9 L792.0,217.2 L794.4,217.6 L796.7,217.9 L799.1,218.3 L801.5,218.7 L803.9,219.0 L806.3,219.4 L808.7,219.8 L811.1,220.2 L813.5,220.6 L815.9,220.9 L818.2,221.3 L820.6,221.7 L823.0,222.1 L825.4,222.5 L827.8,222.9 L830.2,223.3 L832.6,223.7 L835.0,224.1 L837.4,224.6 L839.7,225.0 L842.1,225.4 L844.5,225.8 L846.9,226.3 L849.3,226.7 L851.7,227.1 L854.1,227.6 L856.5,228.0 L858.9,228.5 L861.3,228.9 L863.6,229.4 L866.0,229.8 L868.4,230.3 L870.8,230.7 L873.2,231.2 L875.6,231.7 L878.0,232.2 L880.4,232.6 L882.8,233.1 L885.1,233.6 L887.5,234.1 L889.9,234.6 L892.3,235.1 L894.7,235.6 L897.1,236.1 L899.5,236.6 L901.9,237.1 L904.3,237.7 L906.6,238.2 L909.0,238.7 L911.4,239.2 L913.8,239.8 L916.2,240.3 L918.6,240.9 L921.0,241.4 L923.4,242.0 L925.8,242.5 L928.2,243.1 L930.5,243.6 L932.9,244.2 L935.3,244.8 L937.7,245.4 L940.1,245.9 L942.5,246.5 L944.9,247.1 L947.3,247.7 L949.7,248.3 L952.0,248.9 L954.4,249.5 L956.8,250.1 L959.2,250.7 L961.6,251.4 L964.0,252.0 L966.4,252.6 L968.8,253.3 L971.2,253.9 L973.5,254.5 L975.9,255.2 L978.3,255.8 L980.7,256.5 L983.1,257.2 L985.5,257.8 L987.9,258.5 L990.3,259.2 L992.7,259.9 L995.0,260.6 L997.4,261.2 L999.8,261.9 L1002.2,262.6 L1004.6,263.3 L1007.0,264.1 L1009.4,264.8 L1011.8,265.5 L1014.2,266.2 L1016.6,266.9 L1018.9,267.7 L1021.3,268.4 L1023.7,269.2 L1026.1,269.9 L1028.5,270.7 L1030.9,271.4 L1033.3,272.2 L1035.7,273.0 L1038.1,273.7 L1040.4,274.5 L1042.8,275.3 L1045.2,276.1 L1047.6,276.9 L1050.0,277.7 L1052.4,278.5 L1054.8,279.3 L1057.2,280.1 L1059.6,280.9 L1061.9,281.8 L1064.3,282.6 L1066.7,283.4 L1069.1,284.3 L1071.5,285.1 L1073.9,286.0 L1076.3,286.8 L1078.7,287.7 L1081.1,288.6 L1083.4,289.4 L1085.8,290.3 L1088.2,291.2 L1090.6,292.1 L1093.0,293.0 L1095.4,293.9 L1097.8,294.8 L1100.2,295.7 L1102.6,296.6 L1105.0,297.5 L1107.3,298.4 L1109.7,299.4 L1112.1,300.3 L1114.5,301.2 L1116.9,302.2 L1119.3,303.1 L1121.7,304.1 L1124.1,305.1 L1126.5,306.0 L1128.8,307.0 L1131.2,308.0 L1133.6,309.0 L1136.0,309.9 L1138.4,310.9 L1140.8,311.9 L1143.2,312.9 L1145.6,313.9 L1148.0,315.0 L1150.3,316.0 L1152.7,317.0 L1155.1,318.0 L1157.5,319.1 L1159.9,320.1 L1162.3,321.2 L1164.7,322.2 L1167.1,323.3 L1169.5,324.3 L1171.9,325.4 L1174.2,326.5 L1176.6,327.5 L1179.0,328.6 L1181.4,329.7 L1183.8,330.8 L1186.2,331.9 L1188.6,333.0 L1191.0,334.1 L1193.4,335.2 L1195.7,336.3 L1198.1,337.4 L1200.5,338.6 L1202.9,339.7 L1205.3,340.8 L1208.3,342.2" fill="none" stroke="#333333" stroke-width="6.6" stroke-linejoin="round" stroke-linecap="butt"/></g>
<g><rect x="248.3" y="176.8" width="10.4" height="3.4" fill="#00FF00"/><rect x="251.8" y="173.3" width="3.4" height="10.4" fill="#00FF00"/><rect x="453.1" y="159.5" width="10.4" height="3.4" fill="#00FF00"/><rect x="456.6" y="156.0" width="3.4" height="10.4" fill="#00FF00"/><rect x="577.8" y="170.0" width="10.4" height="3.4" fill="#00FF00"/><rect x="581.3" y="166.5" width="3.4" height="10.4" fill="#00FF00"/><rect x="702.6" y="194.1" width="10.4" height="3.4" fill="#00FF00"/><rect x="706.1" y="190.6" width="3.4" height="10.4" fill="#00FF00"/><rect x="827.3" y="183.7" width="10.4" height="3.4" fill="#00FF00"/><rect x="830.8" y="180.2" width="3.4" height="10.4" fill="#00FF00"/><rect x="952.3" y="225.4" width="10.4" height="3.4" fill="#00FF00"/><rect x="955.8" y="221.9" width="3.4" height="10.4" fill="#00FF00"/><rect x="1201.8" y="679.4" width="10.4" height="3.4" fill="#00FF00"/><rect x="1205.3" y="675.9" width="3.4" height="10.4" fill="#00FF00"/><path d="M252.0,177.9 L254.4,177.9 L256.8,177.9 L259.2,177.9 L261.6,177.9 L263.9,177.9 L266.3,177.9 L268.7,177.9 L271.1,177.9 L273.5,177.9 L275.9,177.9 L278.3,177.9 L280.7,177.9 L283.1,177.9 L285.4,177.9 L287.8,177.9 L290.2,177.9 L292.6,177.9 L295.0,177.9 L297.4,177.9 L299.8,177.9 L302.2,177.9 L304.6,177.9 L307.0,177.9 L309.3,177.9 L311.7,177.9 L314.1,177.9 L316.5,177.9 L318.9,177.9 L321.3,177.9 L323.7,177.9 L326.1,177.9 L328.5,177.9 L330.8,177.9 L333.2,177.9 L335.6,177.9 L338.0,177.9 L340.4,177.9 L342.8,177.9 L345.2,177.9 L347.6,177.9 L350.0,177.9 L352.3,177.9 L354.7,177.9 L357.1,177.9 L359.5,177.9 L361.9,177.9 L364.3,177.9 L366.7,177.9 L369.1,177.9 L371.5,177.9 L373.9,177.9 L376.2,177.9 L378.6,177.9 L381.0,177.9 L383.4,177.9 L385.8,177.9 L388.2,177.9 L390.6,177.9 L393.0,177.9 L395.4,177.9 L397.7,177.9 L400.1,177.9 L402.5,177.9 L404.9,177.9 L407.3,177.9 L409.7,177.9 L412.1,177.9 L414.5,177.9 L416.9,177.9 L419.2,177.9 L421.6,177.9 L424.0,177.9 L426.4,177.9 L428.8,177.9 L431.2,177.9 L433.6,177.9 L436.0,177.9 L438.4,177.9 L440.7,177.9 L443.1,177.9 L445.5,177.9 L447.9,177.9 L450.3,177.9 L452.7,177.9 L455.1,177.9 L457.5,177.9 L459.9,177.9 L462.3,177.9 L464.6,177.9 L467.0,177.9 L469.4,177.9 L471.8,177.9 L474.2,177.9 L476.6,177.9 L479.0,177.9 L481.4,177.9 L483.8,177.9 L486.1,177.9 L488.5,177.9 L490.9,177.9 L493.3,177.9 L495.7,177.9 L498.1,177.9 L500.5,177.9 L502.9,177.9 L505.3,177.9 L507.6,177.9 L510.0,177.9 L512.4,177.9 L514.8,177.9 L517.2,177.9 L519.6,177.9 L522.0,177.9 L524.4,177.9 L526.8,177.9 L529.1,177.9 L531.5,177.9 L533.9,177.9 L536.3,177.9 L538.7,177.9 L541.1,177.9 L543.5,177.9 L545.9,177.9 L548.3,177.9 L550.7,177.9 L553.0,177.9 L555.4,177.9 L557.8,177.9 L560.2,177.9 L562.6,177.9 L565.0,177.9 L567.4,177.9 L569.8,177.9 L572.2,177.9 L574.5,177.9 L576.9,178.0 L579.3,178.0 L581.7,178.0 L584.1,178.0 L586.5,178.0 L588.9,178.0 L591.3,178.0 L593.7,178.0 L596.0,178.0 L598.4,178.0 L600.8,178.0 L603.2,178.0 L605.6,178.0 L608.0,178.0 L610.4,178.0 L612.8,178.0 L615.2,178.0 L617.6,178.1 L619.9,178.1 L622.3,178.1 L624.7,178.1 L627.1,178.1 L629.5,178.1 L631.9,178.1 L634.3,178.1 L636.7,178.1 L639.1,178.2 L641.4,178.2 L643.8,178.2 L646.2,178.2 L648.6,178.2 L651.0,178.2 L653.4,178.2 L655.8,178.3 L658.2,178.3 L660.6,178.3 L662.9,178.3 L665.3,178.3 L667.7,178.3 L670.1,178.4 L672.5,178.4 L674.9,178.4 L677.3,178.4 L679.7,178.5 L682.1,178.5 L684.4,178.5 L686.8,178.5 L689.2,178.6 L691.6,178.6 L694.0,178.6 L696.4,178.7 L698.8,178.7 L701.2,178.7 L703.6,178.8 L706.0,178.8 L708.3,178.9 L710.7,178.9 L713.1,179.0 L715.5,179.0 L717.9,179.0 L720.3,179.1 L722.7,179.1 L725.1,179.2 L727.5,179.3 L729.8,179.3 L732.2,179.4 L734.6,179.5 L737.0,179.5 L739.4,179.6 L741.8,179.7 L744.2,179.7 L746.6,179.8 L749.0,179.9 L751.3,180.0 L753.7,180.1 L756.1,180.2 L758.5,180.3 L760.9,180.4 L763.3,180.5 L765.7,180.6 L768.1,180.7 L770.5,180.8 L772.9,181.0 L775.2,181.1 L777.6,181.2 L780.0,181.4 L782.4,181.5 L784.8,181.7 L787.2,181.8 L789.6,182.0 L792.0,182.2 L794.4,182.4 L796.7,182.6 L799.1,182.7 L801.5,183.0 L803.9,183.2 L806.3,183.4 L808.7,183.6 L811.1,183.9 L813.5,184.1 L815.9,184.4 L818.2,184.7 L820.6,185.0 L823.0,185.2 L825.4,185.6 L827.8,185.9 L830.2,186.2 L832.6,186.6 L835.0,186.9 L837.4,187.3 L839.7,187.7 L842.1,188.1 L844.5,188.6 L846.9,189.0 L849.3,189.5 L851.7,189.9 L854.1,190.4 L856.5,191.0 L858.9,191.5 L861.3,192.1 L863.6,192.7 L866.0,193.3 L868.4,193.9 L870.8,194.6 L873.2,195.3 L875.6,196.0 L878.0,196.7 L880.4,197.5 L882.8,198.3 L885.1,199.2 L887.5,200.0 L889.9,200.9 L892.3,201.9 L894.7,202.9 L897.1,203.9 L899.5,204.9 L901.9,206.0 L904.3,207.2 L906.6,208.4 L909.0,209.6 L911.4,210.9 L913.8,212.2 L916.2,213.5 L918.6,215.0 L921.0,216.4 L923.4,218.0 L925.8,219.5 L928.2,221.2 L930.5,222.9 L932.9,224.6 L935.3,226.5 L937.7,228.4 L940.1,230.3 L942.5,232.3 L944.9,234.4 L947.3,236.6 L949.7,238.8 L952.0,241.1 L954.4,243.5 L956.8,246.0 L959.2,248.5 L961.6,251.1 L964.0,253.9 L966.4,256.6 L968.8,259.5 L971.2,262.5 L973.5,265.5 L975.9,268.7 L978.3,271.9 L980.7,275.2 L983.1,278.7 L985.5,282.2 L987.9,285.8 L990.3,289.5 L992.7,293.3 L995.0,297.2 L997.4,301.2 L999.8,305.3 L1002.2,309.5 L1004.6,313.7 L1007.0,318.1 L1009.4,322.6 L1011.8,327.2 L1014.2,331.8 L1016.6,336.6 L1018.9,341.4 L1021.3,346.3 L1023.7,351.3 L1026.1,356.4 L1028.5,361.6 L1030.9,366.9 L1033.3,372.2 L1035.7,377.6 L1038.1,383.1 L1040.4,388.6 L1042.8,394.3 L1045.2,399.9 L1047.6,405.6 L1050.0,411.4 L1052.4,417.2 L1054.8,423.1 L1057.2,429.0 L1059.6,434.9 L1061.9,440.9 L1064.3,446.9 L1066.7,452.9 L1069.1,458.9 L1071.5,464.9 L1073.9,470.9 L1076.3,476.9 L1078.7,482.9 L1081.1,488.9 L1083.4,494.9 L1085.8,500.8 L1088.2,506.7 L1090.6,512.6 L1093.0,518.5 L1095.4,524.3 L1097.8,530.0 L1100.2,535.7 L1102.6,541.4 L1105.0,546.9 L1107.3,552.5 L1109.7,557.9 L1112.1,563.3 L1114.5,568.6 L1116.9,573.8 L1119.3,579.0 L1121.7,584.0 L1124.1,589.0 L1126.5,593.9 L1128.8,598.7 L1131.2,603.4 L1133.6,608.1 L1136.0,612.6 L1138.4,617.0 L1140.8,621.4 L1143.2,625.6 L1145.6,629.8 L1148.0,633.8 L1150.3,637.8 L1152.7,641.6 L1155.1,645.4 L1157.5,649.1 L1159.9,652.6 L1162.3,656.1 L1164.7,659.5 L1167.1,662.8 L1169.5,666.0 L1171.9,669.1 L1174.2,672.1 L1176.6,675.0 L1179.0,677.9 L1181.4,680.6 L1183.8,683.3 L1186.2,685.9 L1188.6,688.4 L1191.0,690.9 L1193.4,693.2 L1195.7,695.5 L1198.1,697.7 L1200.5,699.8 L1202.9,701.9 L1205.3,703.9 L1207.8,706.0" fill="none" stroke="#00FF00" stroke-width="6.6" stroke-linejoin="round" stroke-linecap="butt"/></g>
<text class="tk" x="225" y="85.9" text-anchor="end">120</text><text class="tk" x="225" y="200.3" text-anchor="end">100</text><text class="tk" x="225" y="318.0" text-anchor="end">80</text><text class="tk" x="225" y="432.8" text-anchor="end">60</text><text class="tk" x="225" y="546.9" text-anchor="end">40</text><text class="tk" x="225" y="661.4" text-anchor="end">20</text><text class="tk" x="225" y="779.2" text-anchor="end">0</text><text class="tk" x="249.9" y="841.5" text-anchor="middle">0.0</text><text class="tk" x="454.3" y="841.5" text-anchor="middle">0.5</text><text class="tk" x="662.3" y="841.5" text-anchor="middle">1.0</text><text class="tk" x="870.3" y="841.5" text-anchor="middle">1.5</text><text class="tk" x="1078.3" y="841.5" text-anchor="middle">2.0</text><text class="tk" x="1286.2" y="841.5" text-anchor="middle">2.5</text>
<text class="ti" y="949.3"><tspan x="387.1 430.1 469.1 503.1 521.7 543.9 567.0 596.9 636.2 675.6 699.5 759.8 799.8 824.0 862.8 897.3 917.4 937.4 961.5 998.6 1021.2 1043.6 1086.8">Log (Isopimpinellin) µM</tspan></text>
<text class="tib" transform="translate(87.0,580.0) rotate(-90)" x="-2.0 62.0 80.6 116.9 138.3 160.0 195.4 232.6 274.0 294.1 323.6 361.9" y="0">% of control</text>
<rect x="1402.9" y="176.8" width="73" height="7" fill="#FFA040"/>
<rect x="1402.9" y="283.9" width="73" height="7" fill="#FF0080"/>
<rect x="1402.9" y="398.2" width="73" height="7" fill="#A800E8"/>
<rect x="1402.9" y="509.4" width="73" height="7" fill="#5858FF"/>
<rect x="1402.9" y="620.3" width="73" height="7" fill="#333333"/>
<rect x="1406.1" y="728.0" width="73" height="7" fill="#00FF00"/>
<text class="ti" y="204.3"><tspan x="1517.3 1560.1 1594.6 1630.8 1657.6 1681.1 1715.1 1732.7 1758.8 1802.9 1839.2 1873.2">Saos-2 IC50 </tspan><tspan class="eq" x="1889.5">=</tspan><tspan x="1927.8 1943.7 1978.6 2012.7 2028.0 2065.7 2099.7 2121.0 2165.0"> 42.59 µM</tspan></text>
<text class="ti" y="311.5"><tspan x="1520.3 1575.6 1629.5 1667.3 1687.5 1714.8 1757.5 1794.5 1828.5">HOS IC50 </tspan><tspan class="eq" x="1844.6">=</tspan><tspan x="1882.9 1897.2 1933.0 1967.7 2002.4 2019.9 2053.9 2074.9 2119.3"> 321.6 µM</tspan></text>
<text class="ti" y="426.1"><tspan x="1517.5 1568.1 1610.4 1673.9 1696.6 1732.2 1766.9 1802.1 1836.1 1853.6 1879.3 1924.1 1961.1 1995.1">RPMI8226 IC50 </tspan><tspan class="eq" x="2011.5">=</tspan><tspan x="2049.8 2064.8 2099.0 2132.0 2168.3 2186.1 2220.1 2243.4 2286.2"> 105.0 µM</tspan></text>
<text class="ti" y="537.0"><tspan x="1518.4 1570.0 1603.7 1639.3 1673.3 1691.1 1718.1 1761.2 1798.2 1832.2">U266 IC50 </tspan><tspan class="eq" x="1848.3">=</tspan><tspan x="1886.6 1901.5 1936.9 1971.2 1987.9 2023.5 2057.5 2078.6 2122.6"> 84.14 µM</tspan></text>
<text class="ti" y="647.8"><tspan x="1517.9 1560.0 1625.4 1659.7 1694.0 1728.0 1746.6 1773.1 1816.8 1854.3 1888.3">SW620 IC50 </tspan><tspan class="eq" x="1903.8">=</tspan><tspan x="1942.1 1956.3 1991.9 2025.6 2061.5 2078.2 2112.2 2135.6 2178.6"> 711.3 µM</tspan></text>
<text class="ti" y="755.0"><tspan x="1523.9 1577.6 1620.0 1642.7 1676.7 1710.7 1729.3 1755.7 1799.4 1835.7 1869.7">HT-29 IC50 </tspan><tspan class="eq" x="1886.5">=</tspan><tspan x="1924.8 1939.0 1973.0 2008.1 2024.6 2060.6 2094.6 2118.0 2161.6"> 95.53 µM</tspan></text>
</svg></body></html>
